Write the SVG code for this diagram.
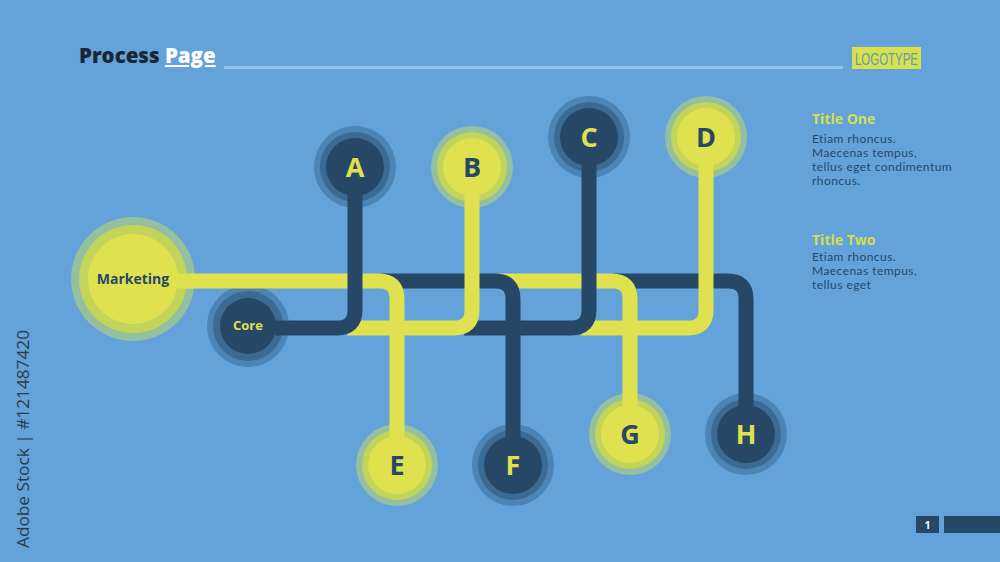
<svg xmlns="http://www.w3.org/2000/svg" width="1000" height="562" viewBox="0 0 1000 562">
<style>
.bg{fill:#63a3d9}
.y0{fill:#dfe24e}.y1{fill:#c3d45a}.y2{fill:#94c0a0}
.d0{fill:#274766}.d1{fill:#3b6a92}.d2{fill:#4d84b6}
.ly{fill:none;stroke:#dfe24e;stroke-width:15}
.ld{fill:none;stroke:#274766;stroke-width:15}
.lt{font-family:"Open Sans","Noto Sans",sans-serif;font-weight:700;font-size:27px;text-anchor:middle}
.ondark{fill:#dfe24e}.onyel{fill:#274766}
.ttl{font-family:"Open Sans","Noto Sans",sans-serif;font-weight:700;font-size:14px;fill:#d6df4c}
.body{font-family:Lato,"Open Sans",sans-serif;font-size:12px;letter-spacing:0.45px;fill:#24496e}
</style>
<rect class="bg" x="0" y="0" width="1000" height="562"/>

<g id="header">
<text x="79" y="63" font-family="'Open Sans','Noto Sans',sans-serif" font-weight="800" font-size="20.5" fill="#1b2634">Process <tspan fill="#ffffff" text-decoration="underline">Page</tspan></text>
<rect x="224" y="66" width="619" height="3" fill="#8fc4ee"/>
</g>
<g id="logo">
<rect x="852" y="47" width="69" height="22" fill="#d9e04c"/>
<text x="855" y="65" font-family="'Liberation Sans',sans-serif" font-size="16" fill="#5b9bb3" textLength="63" lengthAdjust="spacingAndGlyphs">LOGOTYPE</text>
</g>

<g id="text-one">
<text class="ttl" x="812" y="124">Title One</text>
<text class="body" x="812" y="143">Etiam rhoncus.</text>
<text class="body" x="812" y="157">Maecenas tempus,</text>
<text class="body" x="812" y="171">tellus eget condimentum</text>
<text class="body" x="812" y="185">rhoncus.</text>
</g>
<g id="text-two">
<text class="ttl" x="812" y="245">Title Two</text>
<text class="body" x="812" y="261">Etiam rhoncus.</text>
<text class="body" x="812" y="275">Maecenas tempus,</text>
<text class="body" x="812" y="289">tellus eget</text>
</g>

<g id="node-marketing">
<circle class="y2" cx="133" cy="279" r="62"/>
<circle class="y1" cx="133" cy="279" r="54"/>
<circle class="y0" cx="133" cy="279" r="45"/>
</g>
<g id="node-core">
<circle class="d2" cx="248" cy="326" r="41"/>
<circle class="d1" cx="248" cy="326" r="35"/>
<circle class="d0" cx="248" cy="326" r="28"/>
</g>
<g id="node-a">
<circle class="d2" cx="355" cy="167" r="41"/>
<circle class="d1" cx="355" cy="167" r="35"/>
<circle class="d0" cx="355" cy="167" r="29"/>
</g>
<g id="node-b">
<circle class="y2" cx="472" cy="167" r="41"/>
<circle class="y1" cx="472" cy="167" r="35"/>
<circle class="y0" cx="472" cy="167" r="29"/>
</g>
<g id="node-c">
<circle class="d2" cx="589" cy="137" r="41"/>
<circle class="d1" cx="589" cy="137" r="35"/>
<circle class="d0" cx="589" cy="137" r="29"/>
</g>
<g id="node-d">
<circle class="y2" cx="706" cy="137" r="41"/>
<circle class="y1" cx="706" cy="137" r="35"/>
<circle class="y0" cx="706" cy="137" r="29"/>
</g>
<g id="node-e">
<circle class="y2" cx="397" cy="465" r="41"/>
<circle class="y1" cx="397" cy="465" r="35"/>
<circle class="y0" cx="397" cy="465" r="29"/>
</g>
<g id="node-f">
<circle class="d2" cx="513" cy="465" r="41"/>
<circle class="d1" cx="513" cy="465" r="35"/>
<circle class="d0" cx="513" cy="465" r="29"/>
</g>
<g id="node-g">
<circle class="y2" cx="630" cy="434" r="41"/>
<circle class="y1" cx="630" cy="434" r="35"/>
<circle class="y0" cx="630" cy="434" r="29"/>
</g>
<g id="node-h">
<circle class="d2" cx="746" cy="434" r="41"/>
<circle class="d1" cx="746" cy="434" r="35"/>
<circle class="d0" cx="746" cy="434" r="29"/>
</g>

<g id="connectors">
<path class="ld" d="M614,281 H728 Q746,281 746,299 V406"/>
<path class="ly" d="M498,281 H612 Q630,281 630,299 V406"/>
<path class="ld" d="M382,281 H495 Q513,281 513,299 V437"/>
<path class="ly" d="M176,281 H379 Q397,281 397,299 V437"/>
<path class="ly" d="M581,328 H688 Q706,328 706,310 V165"/>
<path class="ld" d="M464,328 H571 Q589,328 589,310 V165"/>
<path class="ly" d="M347,328 H454 Q472,328 472,310 V195"/>
<path class="ld" d="M275,328 H337 Q355,328 355,310 V195"/>
</g>

<g id="labels">
<text x="133" y="284" text-anchor="middle" font-family="'Open Sans','Noto Sans',sans-serif" font-weight="700" font-size="14" fill="#274766">Marketing</text>
<text x="248" y="330" text-anchor="middle" font-family="'Open Sans','Noto Sans',sans-serif" font-weight="700" font-size="13" fill="#dfe24e">Core</text>
<text class="lt ondark" x="355" y="177">A</text>
<text class="lt onyel" x="472" y="177">B</text>
<text class="lt ondark" x="589" y="147">C</text>
<text class="lt onyel" x="706" y="147">D</text>
<text class="lt onyel" x="397" y="475">E</text>
<text class="lt ondark" x="513" y="475">F</text>
<text class="lt onyel" x="630" y="444">G</text>
<text class="lt ondark" x="746" y="444">H</text>
</g>

<g id="footer">
<rect x="916" y="516" width="23" height="17" fill="#274766"/>
<text x="927.5" y="529" text-anchor="middle" font-family="'Open Sans',sans-serif" font-weight="700" font-size="10" fill="#ffffff">1</text>
<rect x="944" y="516" width="56" height="17" fill="#274766"/>
</g>

<text transform="translate(29,548) rotate(-90)" font-family="'Open Sans','Noto Sans',sans-serif" font-size="16" fill="#2b3b4c" textLength="218" lengthAdjust="spacingAndGlyphs">Adobe Stock | #121487420</text>
</svg>
